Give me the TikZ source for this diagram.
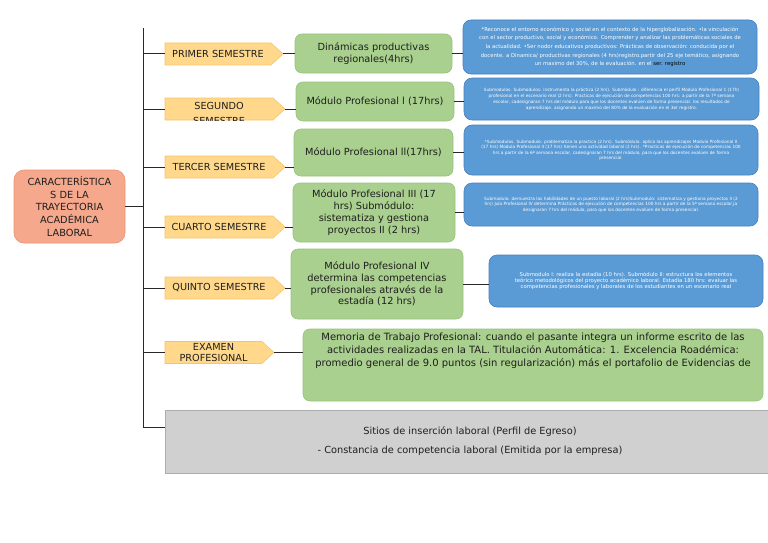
\documentclass[tikz,border=0pt]{standalone}
\usepackage{fontspec}
\setmainfont{DejaVu Sans}
\usetikzlibrary{calc}
\definecolor{rootfill}{RGB}{246,168,140}
\definecolor{rootline}{RGB}{236,146,116}
\definecolor{tagfill}{RGB}{255,216,140}
\definecolor{tagline}{RGB}{247,196,105}
\definecolor{greenfill}{RGB}{169,208,142}
\definecolor{greenline}{RGB}{150,196,122}
\definecolor{bluefill}{RGB}{91,155,213}
\definecolor{blueline}{RGB}{70,128,192}
\definecolor{grayfill}{RGB}{208,208,208}
\definecolor{grayline}{RGB}{172,172,172}
\definecolor{conn}{RGB}{40,40,40}
\definecolor{txt}{RGB}{30,30,30}
\newcommand\mytag[6]{%
  \fill[tagfill, draw=tagline, line width=0.6pt] (#2,#5-11) -- (#3,#5-11) -- (#4,#5) -- (#3,#5+11) -- (#2,#5+11) -- cycle;
  \coordinate (#1tip) at (#4,#5);
  \node[tagtext, minimum width={(#3-#2)*1pt}] (#1) at ({(#2+#3)/2},#5) {#6};
}
\begin{document}
\begin{tikzpicture}[x=1pt,y=-1pt,
  tagtext/.style={inner sep=0pt, minimum height=22pt, align=center, text=txt, font=\fontsize{9.7}{11.6}\selectfont},
  rootbox/.style={rectangle, rounded corners=10pt, fill=rootfill, draw=rootline, line width=0.6pt, align=center, text=txt, inner sep=0pt, font=\fontsize{9.8}{12.6}\selectfont},
  gbox/.style={rectangle, rounded corners=7pt, fill=greenfill, draw=greenline, line width=0.6pt, align=center, text=txt, inner sep=0pt, font=\fontsize{9.8}{11.8}\selectfont},
  bbox/.style={rectangle, rounded corners=8pt, fill=bluefill, draw=blueline, line width=0.6pt, align=center, text=white, inner sep=0pt},
  conline/.style={draw=conn, line width=1pt}
]
\useasboundingbox (0,0) rectangle (768,543);

% root
\node[rootbox, minimum width=111pt, minimum height=73pt] (root) at (69.5,206.5)
  {CARACTERÍSTICA\\S DE LA\\TRAYECTORIA\\ACADÉMICA\\LABORAL};

% trunk
\coordinate (tt) at (143,28);
\coordinate (tb) at (143,428);
\draw[conline] (tt) -- (tb);
\draw[conline] (root.east) -- (root.east -| tt);

% tags
\mytag{t1}{165}{271}{283}{54}{PRIMER SEMESTRE}
\mytag{t2}{165}{273}{285}{109}{}
\begin{scope}
  \clip (165,98) rectangle (285,120);
  \node[align=center, text=txt, font=\fontsize{9.7}{15}\selectfont, inner sep=0pt] (t2text) at (219,113.5) {SEGUNDO\\SEMESTRE};
\end{scope}
\mytag{t3}{165}{273}{285}{167}{TERCER SEMESTRE}
\mytag{t4}{165}{273}{285}{227}{CUARTO SEMESTRE}
\mytag{t5}{165}{273}{285}{288}{QUINTO SEMESTRE}
\mytag{t6}{165}{262}{274}{352.5}{EXAMEN\\PROFESIONAL}

% green boxes
\node[gbox, minimum width=157pt, minimum height=39pt] (g1) at (373.5,53.5) {Dinámicas productivas\\regionales(4hrs)};
\node[gbox, minimum width=158pt, minimum height=39pt] (g2) at (375,101.5) {Módulo Profesional l (17hrs)};
\node[gbox, minimum width=159pt, minimum height=47pt] (g3) at (373.5,152.5) {Módulo Profesional ll(17hrs)};
\node[gbox, minimum width=162pt, minimum height=59pt] (g4) at (374,212.5) {Módulo Profesional III (17\\hrs) Submódulo:\\sistematiza y gestiona\\proyectos II (2 hrs)};
\node[gbox, minimum width=172pt, minimum height=70pt] (g5) at (377,284) {Módulo Profesional IV\\determina las competencias\\profesionales através de la\\estadía (12 hrs)};
\node[gbox, minimum width=460pt, minimum height=72pt] (g6) at (533,365) {};
\node[anchor=north, align=center, text=txt, inner sep=0pt, font=\fontsize{10}{13}\selectfont] (g6text) at (533,333)
  {Memoria de Trabajo Profesional: cuando el pasante integra un informe escrito de las\\
   actividades realizadas en la TAL. Titulación Automática: 1. Excelencia Roadémica:\\
   promedio general de 9.0 puntos (sin regularización) más el portafolio de Evidencias de};

% blue boxes
\node[bbox, minimum width=294pt, minimum height=54pt, font=\fontsize{5.3}{8.7}\selectfont] (c1) at (610,47)
  {*Reconoce el entorno económico y social en el contexto de la hiperglobalización. •la vinculación\\
   con el sector productivo, social y económico. Comprender y analizar las problemáticas sociales de\\
   la actualidad. •Ser nodor educativos productivos: Prácticas de observación: conducida por el\\
   docente. a Dinamica/ productivas regionales (4 hrs)registro.partir del 25 eje temático, asignando\\
   un maximo del 30\%, de la evaluación. en el {\color{black}ser. registro}};
\node[bbox, minimum width=295pt, minimum height=42pt, font=\fontsize{4.3}{5.9}\selectfont] (c2) at (611.5,99)
  {Submodulos. Submodulos: instrumenta la práctica (2 hrs). Submódulo : diferencia el perfil Modulo Profesional 1 (17h)\\
   profesional en el escenario real (2 hrs). Practicas de ejecución de competencias 100 hrs: a partir de la 7ª semana\\
   escolar, cadesignaran 7 hrs del módulo para que los docentes evalúen de forma presencial. los resultados de\\
   aprendizaje. asignando un maximo del 80\% de la evaluación en el 3er registro.};
\node[bbox, minimum width=294pt, minimum height=50pt, font=\fontsize{4.3}{5.5}\selectfont] (c3) at (611,150)
  {*Submodulos. Submodulo: problematiza la practica (2 hrs). Submódulo: aplica los aprendizajes Modulo Profesional II\\
   (17 hrs) Modulo Profesional II (17 hrs) tienen una actividad laboral (2 hrs). *Practicas de ejecución de competencias 100\\
   hrs a partir de la 6ª semana escolar, cadesignaran 7 hrs del módulo, para que los docentes evalúen de forma\\
   presencial.};
\node[bbox, minimum width=294pt, minimum height=43pt, font=\fontsize{4.3}{5.4}\selectfont] (c4) at (611,204.5)
  {Submodulo: demuestra las habilidades de un puesto laboral (2 hrs)Submodulo: sistematiza y gestiona proyectos II (2\\
   hrs) Julo Profesional IV determina Prácticas de ejecución de competencias 100 hrs a partir de la 5ª semana escolar,ja\\
   designaran 7 hrs del módulo, para que los docentes evalúen de forma presencial.};
\node[bbox, minimum width=274pt, minimum height=52pt, font=\fontsize{5.3}{6.4}\selectfont] (c5) at (626,281)
  {Submodulo I: realiza la estadía (10 hrs). Submódulo II: estructura los elementos\\
   teórico metodológicos del proyecto académico laboral. Estadía 180 hrs: evaluar las\\
   competencias profesionales y laborales de los estudiantes en un escenario real};

% gray box
\node[rectangle, fill=grayfill, draw=grayline, line width=0.8pt, minimum width=603pt, minimum height=63pt, inner sep=0pt] (gray) at (466.5,441.5) {};
\node[text=txt, inner sep=0pt, font=\fontsize{9.8}{11}\selectfont] (gr1) at (470,432) {Sitios de inserción laboral (Perfil de Egreso)};
\node[text=txt, inner sep=0pt, font=\fontsize{9.8}{11}\selectfont] (gr2) at (470,451) {- Constancia de competencia laboral (Emitida por la empresa)};

% branches from trunk
\foreach \t in {t1,t2,t3,t4,t5,t6}{
  \draw[conline] (\t.west -| tt) -- (\t.west);
}
\coordinate (gy) at (165,427);
\draw[conline] (gy -| tt) -- (gy);

% tag to green
\draw[conline] (t1tip) -- (t1tip -| g1.west);
\draw[conline] (t2tip) -- (t2tip -| g2.west);
\draw[conline] (t3tip) -- (t3tip -| g3.west);
\draw[conline] (t4tip) -- (t4tip -| g4.west);
\draw[conline] (t5tip) -- (t5tip -| g5.west);
\draw[conline] (t6tip) -- (t6tip -| g6.west);

% green to blue
\draw[conline] (g1.east) -- (g1.east -| c1.west);
\draw[conline] (g2.east) -- (g2.east -| c2.west);
\draw[conline] (g3.east) -- (g3.east -| c3.west);
\draw[conline] (g4.east) -- (g4.east -| c4.west);
\draw[conline] (g5.east) -- (g5.east -| c5.west);
\end{tikzpicture}
\end{document}
